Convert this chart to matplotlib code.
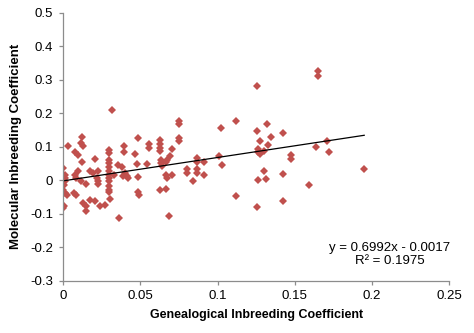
import matplotlib
matplotlib.use('Agg')
import matplotlib.pyplot as plt

plt.rcParams['font.family'] = ['Liberation Sans', 'DejaVu Sans']

# genealogical (pedigree) vs molecular inbreeding coefficient, one value per animal
genealogical = [
    0.000, 0.001, 0.001, 0.0013, 0.0006, 0.000, 0.0013, 0.0024, 0.0008, 0.0002,
    0.003, 0.0125, 0.0116, 0.0131, 0.0078, 0.010, 0.012, 0.0099, 0.0078, 0.0081,
    0.0116, 0.0149, 0.0071, 0.0084, 0.0131, 0.0149, 0.0151, 0.0207, 0.0175, 0.0196,
    0.0228, 0.0218, 0.0225, 0.0223, 0.0175, 0.0207, 0.0239, 0.0272, 0.0298, 0.0298,
    0.0298, 0.0298, 0.0298, 0.0298, 0.0298, 0.0298, 0.0298, 0.0298, 0.0298, 0.0298,
    0.0304, 0.0319, 0.033, 0.0353, 0.038, 0.0395, 0.0395, 0.0401, 0.039, 0.0412,
    0.0422, 0.0362, 0.0466, 0.0485, 0.0481, 0.0485, 0.0487, 0.0494, 0.0542, 0.0556,
    0.0556, 0.0628, 0.0628, 0.0628, 0.0628, 0.0634, 0.0634, 0.0639, 0.0707, 0.0689,
    0.0675, 0.0666, 0.0666, 0.0675, 0.0707, 0.0628, 0.0664, 0.0688, 0.0751, 0.0751,
    0.0751, 0.0751, 0.080, 0.080, 0.0865, 0.0865, 0.0865, 0.0865, 0.0843, 0.0912,
    0.0912, 0.1019, 0.1011, 0.1027, 0.1121, 0.1122, 0.1253, 0.1253, 0.1318, 0.1345,
    0.1276, 0.1328, 0.126, 0.1264, 0.1275, 0.1302, 0.1302, 0.1264, 0.1313, 0.1253,
    0.1423, 0.1472, 0.1472, 0.1423, 0.1423, 0.1591, 0.1637, 0.1648, 0.1648, 0.1705,
    0.1722, 0.1949,
]
molecular = [
    0.037, 0.017, 0.007, -0.003, -0.013, -0.028, -0.038, -0.043, -0.078, -0.083,
    0.104, 0.129, 0.112, 0.102, 0.084, 0.076, 0.054, 0.027, 0.017, 0.007,
    -0.003, -0.010, -0.038, -0.043, -0.068, -0.078, -0.093, 0.064, 0.027, 0.022,
    0.028, 0.007, -0.003, -0.010, -0.058, -0.063, -0.078, -0.073, 0.092, 0.082,
    0.062, 0.052, 0.039, 0.027, 0.015, 0.007, -0.003, -0.018, -0.028, -0.035,
    -0.055, 0.209, 0.017, 0.045, 0.040, 0.102, 0.085, 0.022, 0.012, 0.012,
    0.007, -0.112, 0.080, 0.127, 0.050, 0.011, -0.035, -0.045, 0.048, 0.109,
    0.098, 0.119, 0.108, 0.097, 0.088, 0.062, 0.052, 0.042, 0.094, 0.072,
    0.062, 0.054, 0.017, 0.007, 0.016, -0.028, -0.026, -0.106, 0.176, 0.167,
    0.127, 0.117, 0.035, 0.022, 0.066, 0.056, 0.033, 0.022, -0.003, 0.054,
    0.017, 0.155, 0.072, 0.047, 0.178, -0.048, 0.281, 0.146, 0.169, 0.129,
    0.116, 0.107, 0.094, 0.086, 0.079, 0.087, 0.027, 0.002, 0.005, -0.080,
    0.140, 0.075, 0.063, 0.020, -0.061, -0.013, 0.100, 0.328, 0.313, 0.116,
    0.086, 0.034,
]

# linear trendline coefficients
slope = 0.6992
intercept = -0.0017
r_squared = 0.1975

fig = plt.figure(figsize=(4.74, 3.33), dpi=100)
ax = fig.add_axes([0.133, 0.157, 0.815, 0.804])

ax.plot(genealogical, molecular, linestyle='none', marker='D', markersize=4.2,
        color='#C0504D', markeredgewidth=0)

x_fit = [0, max(genealogical)]
y_fit = [slope * x + intercept for x in x_fit]
ax.plot(x_fit, y_fit, color='black', linewidth=0.9)

ax.set_xlim(0, 0.25)
ax.set_ylim(-0.3, 0.5)
ax.set_xticks([0, 0.05, 0.1, 0.15, 0.2, 0.25])
ax.set_xticklabels(['0', '0.05', '0.1', '0.15', '0.2', '0.25'])
ax.set_yticks([-0.3, -0.2, -0.1, 0, 0.1, 0.2, 0.3, 0.4, 0.5])
ax.set_yticklabels(['-0.3', '-0.2', '-0.1', '0', '0.1', '0.2', '0.3', '0.4', '0.5'])

for side in ['top', 'right']:
    ax.spines[side].set_visible(False)
for side in ['left', 'bottom']:
    ax.spines[side].set_color('#8C8C8C')
    ax.spines[side].set_linewidth(0.9)
ax.tick_params(direction='out', length=3, width=0.9, color='#8C8C8C',
               labelsize=9.5, labelcolor='black', pad=4)

ax.set_xlabel('Genealogical Inbreeding Coefficient', fontsize=9,
              fontweight='bold', labelpad=5)
ax.set_ylabel('Molecular Inbreeding Coefficient', fontsize=9.5,
              fontweight='bold', labelpad=6)

equation = f'y = {slope}x - {abs(intercept)}\nR² = {r_squared}'
ax.text(0.2115, -0.222, equation, fontsize=9.5, ha='center', va='center',
        linespacing=1.1)

fig.savefig('out.png', dpi=100)
